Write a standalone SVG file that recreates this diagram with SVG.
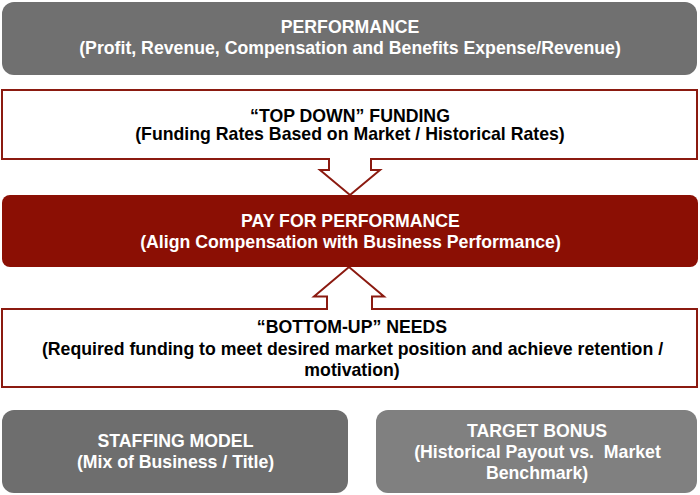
<svg xmlns="http://www.w3.org/2000/svg" width="700" height="495" viewBox="0 0 700 495">
<style>
text{font-family:"Liberation Sans",Arial,sans-serif;font-weight:bold;font-size:17.7px;text-anchor:middle}
.w{fill:#ffffff}
.k{fill:#000000}
.callout{fill:#ffffff;stroke:#8b1a10;stroke-width:2}
</style>
<rect width="700" height="495" fill="#ffffff"/>
<g id="performance">
<rect x="2" y="2" width="695" height="73" rx="12" fill="#707070"/>
<text class="w" x="350" y="32.7">PERFORMANCE</text>
<text class="w" x="350" y="53.5">(Profit, Revenue, Compensation and Benefits Expense/Revenue)</text>
</g>
<g id="connectors">
<path class="callout" d="M2,90 H697 V159 H371 V170 H380 L350,195 L320,170 H329 V159 H2 Z"/>
<path class="callout" d="M2,309 H327 V296.5 H314 L349,267 L384,296.5 H372 V309 H697 V387 H2 Z"/>
</g>
<g id="topdown">
<text class="k" x="350" y="121.5">“TOP DOWN” FUNDING</text>
<text class="k" x="350" y="140">(Funding Rates Based on Market / Historical Rates)</text>
</g>
<g id="payforperformance">
<rect x="2" y="195" width="696" height="72" rx="8" fill="#8b0f04"/>
<text class="w" x="350.5" y="226.7">PAY FOR PERFORMANCE</text>
<text class="w" x="350.5" y="248.3">(Align Compensation with Business Performance)</text>
</g>
<g id="bottomup">
<text class="k" x="352" y="333.3">“BOTTOM-UP” NEEDS</text>
<text class="k" x="352.5" y="354.5">(Required funding to meet desired market position and achieve retention /</text>
<text class="k" x="352" y="375.5">motivation)</text>
</g>
<g id="staffing">
<rect x="2" y="410" width="346" height="83" rx="12" fill="#6e6e6e"/>
<text class="w" x="175.5" y="446.7">STAFFING MODEL</text>
<text class="w" x="175.5" y="468.3">(Mix of Business / Title)</text>
</g>
<g id="targetbonus">
<rect x="376" y="410" width="321" height="83" rx="12" fill="#808080"/>
<text class="w" x="537" y="436.7">TARGET BONUS</text>
<text class="w" x="537.5" y="458" xml:space="preserve">(Historical Payout vs.  Market</text>
<text class="w" x="537" y="479">Benchmark)</text>
</g>
</svg>
